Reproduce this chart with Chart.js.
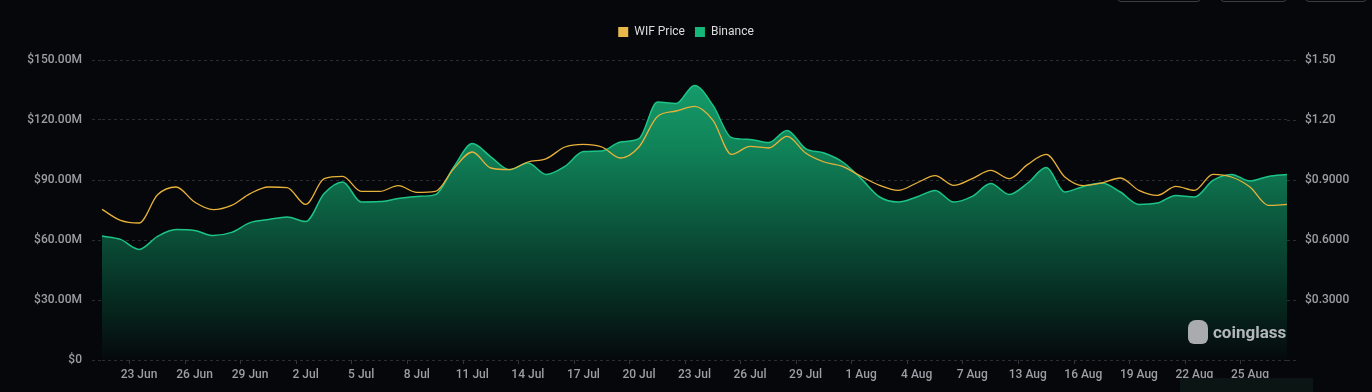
<!DOCTYPE html>
<html lang="en">
  <head>
    <meta charset="UTF-8" />
    <title>WIF Price vs Binance</title>
    <script src="https://cdn.jsdelivr.net/npm/chart.js@4.4.1/dist/chart.umd.min.js"></script>
    <style>
      body {
        margin: 0;
        background: #06070b;
        font-family: Roboto, "Noto Sans", sans-serif;
      }
      #wrap {
        position: relative;
        width: 1372px;
        height: 392px;
        overflow: hidden;
      }
      .btn {
        position: absolute;
        top: -20px;
        height: 20px;
        border: 1px solid #3a3d44;
        border-radius: 4px;
      }
      #mark {
        position: absolute;
        left: 1188px;
        top: 320px;
        color: #b4b6ba;
        font: bold 17px Roboto, sans-serif;
        display: flex;
        align-items: center;
        gap: 5px;
      }
      #mark span.icon {
        width: 20px;
        height: 24px;
        background: #a9abaf;
        border-radius: 8px 8px 6px 6px;
      }
      #corner {
        position: absolute;
        left: 1180px;
        top: 378px;
        width: 133px;
        height: 14px;
        background: #0b1513;
      }
    </style>
  </head>
  <body>
    <div id="wrap">
      <canvas id="myChart"></canvas>
      <div class="btn" style="left: 1117px; width: 82px"></div>
      <div class="btn" style="left: 1220px; width: 65px"></div>
      <div class="btn" style="left: 1305px; width: 60px"></div>
      <div id="corner"></div>
      <div id="mark"><span class="icon"></span>coinglass</div>
    </div>

    <script>
      var dates = [
        "21 Jun", "22 Jun", "23 Jun", "24 Jun", "25 Jun", "26 Jun", "27 Jun", "28 Jun", "29 Jun", "30 Jun",
        "1 Jul", "2 Jul", "3 Jul", "4 Jul", "5 Jul", "6 Jul", "7 Jul", "8 Jul", "9 Jul", "10 Jul",
        "11 Jul", "12 Jul", "13 Jul", "14 Jul", "15 Jul", "16 Jul", "17 Jul", "18 Jul", "19 Jul", "20 Jul",
        "21 Jul", "22 Jul", "23 Jul", "24 Jul", "25 Jul", "26 Jul", "27 Jul", "28 Jul", "29 Jul", "30 Jul",
        "31 Jul", "1 Aug", "2 Aug", "3 Aug", "4 Aug", "5 Aug", "6 Aug", "7 Aug", "8 Aug", "12 Aug",
        "13 Aug", "14 Aug", "15 Aug", "16 Aug", "17 Aug", "18 Aug", "19 Aug", "20 Aug", "21 Aug", "22 Aug",
        "23 Aug", "24 Aug", "25 Aug", "26 Aug", "27 Aug"
      ];

      // Binance open interest, in millions of USD
      var binance = [
        62, 60.3, 55.3, 61.8, 65.2, 64.8, 62.2, 63.8, 68.7, 70.2,
        71.5, 69.2, 83.2, 89, 79, 79.2, 80.7, 81.8, 82.7, 96.5,
        108.2, 101.6, 95.2, 98.5, 92.8, 96.8, 104.2, 104.5, 109, 110.7,
        129, 128.2, 137.3, 127.3, 111.2, 110.3, 108.7, 114.8, 105.7, 103.5,
        99, 90.7, 81.5, 79, 81.5, 84.8, 79, 81.8, 88.2, 82.8,
        88.5, 96.2, 84, 86.8, 88.5, 84, 77.8, 78.5, 82.3, 81.5,
        89.8, 92.8, 89.5, 91.8, 92.8
      ];

      // WIF price, USD
      var wifPrice = [
        0.753, 0.698, 0.685, 0.826, 0.865, 0.79, 0.752, 0.773, 0.832, 0.865,
        0.862, 0.778, 0.907, 0.918, 0.843, 0.843, 0.872, 0.838, 0.843, 0.957,
        1.04, 0.96, 0.952, 0.99, 1.007, 1.065, 1.078, 1.065, 1.01, 1.065,
        1.218, 1.245, 1.268, 1.198, 1.028, 1.068, 1.06, 1.118, 1.035, 0.99,
        0.968, 0.918, 0.873, 0.848, 0.885, 0.922, 0.873, 0.907, 0.948, 0.907,
        0.978, 1.028, 0.915, 0.872, 0.885, 0.91, 0.848, 0.823, 0.868, 0.848,
        0.928, 0.915, 0.865, 0.773, 0.778
      ];

      var legendColors = ["#e8b94a", "#16b87a"];
      var gridColor = "#2a2d33";
      var tickColor = "#9b9ea4";

      function greenFill(context) {
        var chart = context.chart;
        var area = chart.chartArea;
        if (!area) return "#0f7d55";
        var g = chart.ctx.createLinearGradient(0, area.top, 0, area.bottom);
        g.addColorStop(0, "#17a571");
        g.addColorStop(0.3, "#108258");
        g.addColorStop(0.6, "#0a4c36");
        g.addColorStop(0.8, "#062a20");
        g.addColorStop(1, "#05090b");
        return g;
      }

      // extra room under the legend
      var legendSpace = {
        id: "legendSpace",
        beforeInit: function (chart) {
          var fit = chart.legend.fit;
          chart.legend.fit = function () {
            fit.call(chart.legend);
            this.height += 12;
          };
        },
      };

      var ctx = document.getElementById("myChart").getContext("2d");
      var myChart = new Chart(ctx, {
        type: "line",
        data: {
          labels: dates,
          datasets: [
            {
              label: "WIF Price",
              data: wifPrice,
              yAxisID: "y1",
              borderColor: "#e8b23a",
              borderWidth: 1.3,
              pointRadius: 0,
              fill: false,
              cubicInterpolationMode: "monotone",
            },
            {
              label: "Binance",
              data: binance,
              yAxisID: "y",
              borderColor: "#1cc488",
              borderWidth: 1.5,
              backgroundColor: greenFill,
              pointRadius: 0,
              fill: "origin",
              cubicInterpolationMode: "monotone",
            },
          ],
        },
        options: {
          responsive: true,
          maintainAspectRatio: false,
          animation: false,
          layout: { padding: { top: 16 } },
          plugins: {
            legend: {
              position: "top",
              labels: {
                color: "#dcdcdc",
                font: { family: "Roboto", size: 12 },
                boxWidth: 10,
                boxHeight: 10,
                padding: 10,
                generateLabels: function (chart) {
                  return chart.data.datasets.map(function (ds, i) {
                    return {
                      text: ds.label,
                      fillStyle: legendColors[i],
                      strokeStyle: legendColors[i],
                      lineWidth: 0,
                      fontColor: "#dcdcdc",
                      datasetIndex: i,
                    };
                  });
                },
              },
            },
            tooltip: { enabled: false },
          },
          scales: {
            x: {
              border: { display: false },
              grid: {
                offset: true,
                drawOnChartArea: false,
                tickLength: 4,
                color: function (c) {
                  return c.index % 3 === 2 ? "#33363d" : "transparent";
                },
              },
              ticks: {
                autoSkip: false,
                maxRotation: 0,
                color: tickColor,
                font: { family: "Roboto", size: 12, weight: "500" },
                padding: 4,
                callback: function (v, i) {
                  return i % 3 === 2 ? dates[i] : "";
                },
              },
              afterFit: function (s) {
                s.height = 32;
              },
            },
            y: {
              position: "left",
              min: 0,
              max: 150,
              border: { display: false, dash: [3, 3] },
              grid: {
                color: gridColor,
                tickBorderDash: [3, 3],
                tickLength: 10,
              },
              ticks: {
                stepSize: 30,
                color: tickColor,
                font: { family: "Roboto", size: 12, weight: "500" },
                padding: 10,
                callback: function (v) {
                  return v === 0 ? "$0" : "$" + v.toFixed(2) + "M";
                },
              },
              afterFit: function (s) {
                s.width = 102;
              },
            },
            y1: {
              position: "right",
              min: 0,
              max: 1.5,
              border: { display: false, dash: [3, 3] },
              grid: {
                drawOnChartArea: false,
                color: gridColor,
                tickBorderDash: [3, 3],
                tickLength: 10,
              },
              ticks: {
                stepSize: 0.3,
                color: tickColor,
                font: { family: "Roboto", size: 12, weight: "500" },
                padding: 8,
                callback: function (v) {
                  if (v === 0) return "";
                  return "$" + (v >= 1 ? v.toFixed(2) : v.toFixed(4));
                },
              },
              afterFit: function (s) {
                s.width = 85;
              },
            },
          },
        },
        plugins: [legendSpace],
      });
    </script>
  </body>
</html>
